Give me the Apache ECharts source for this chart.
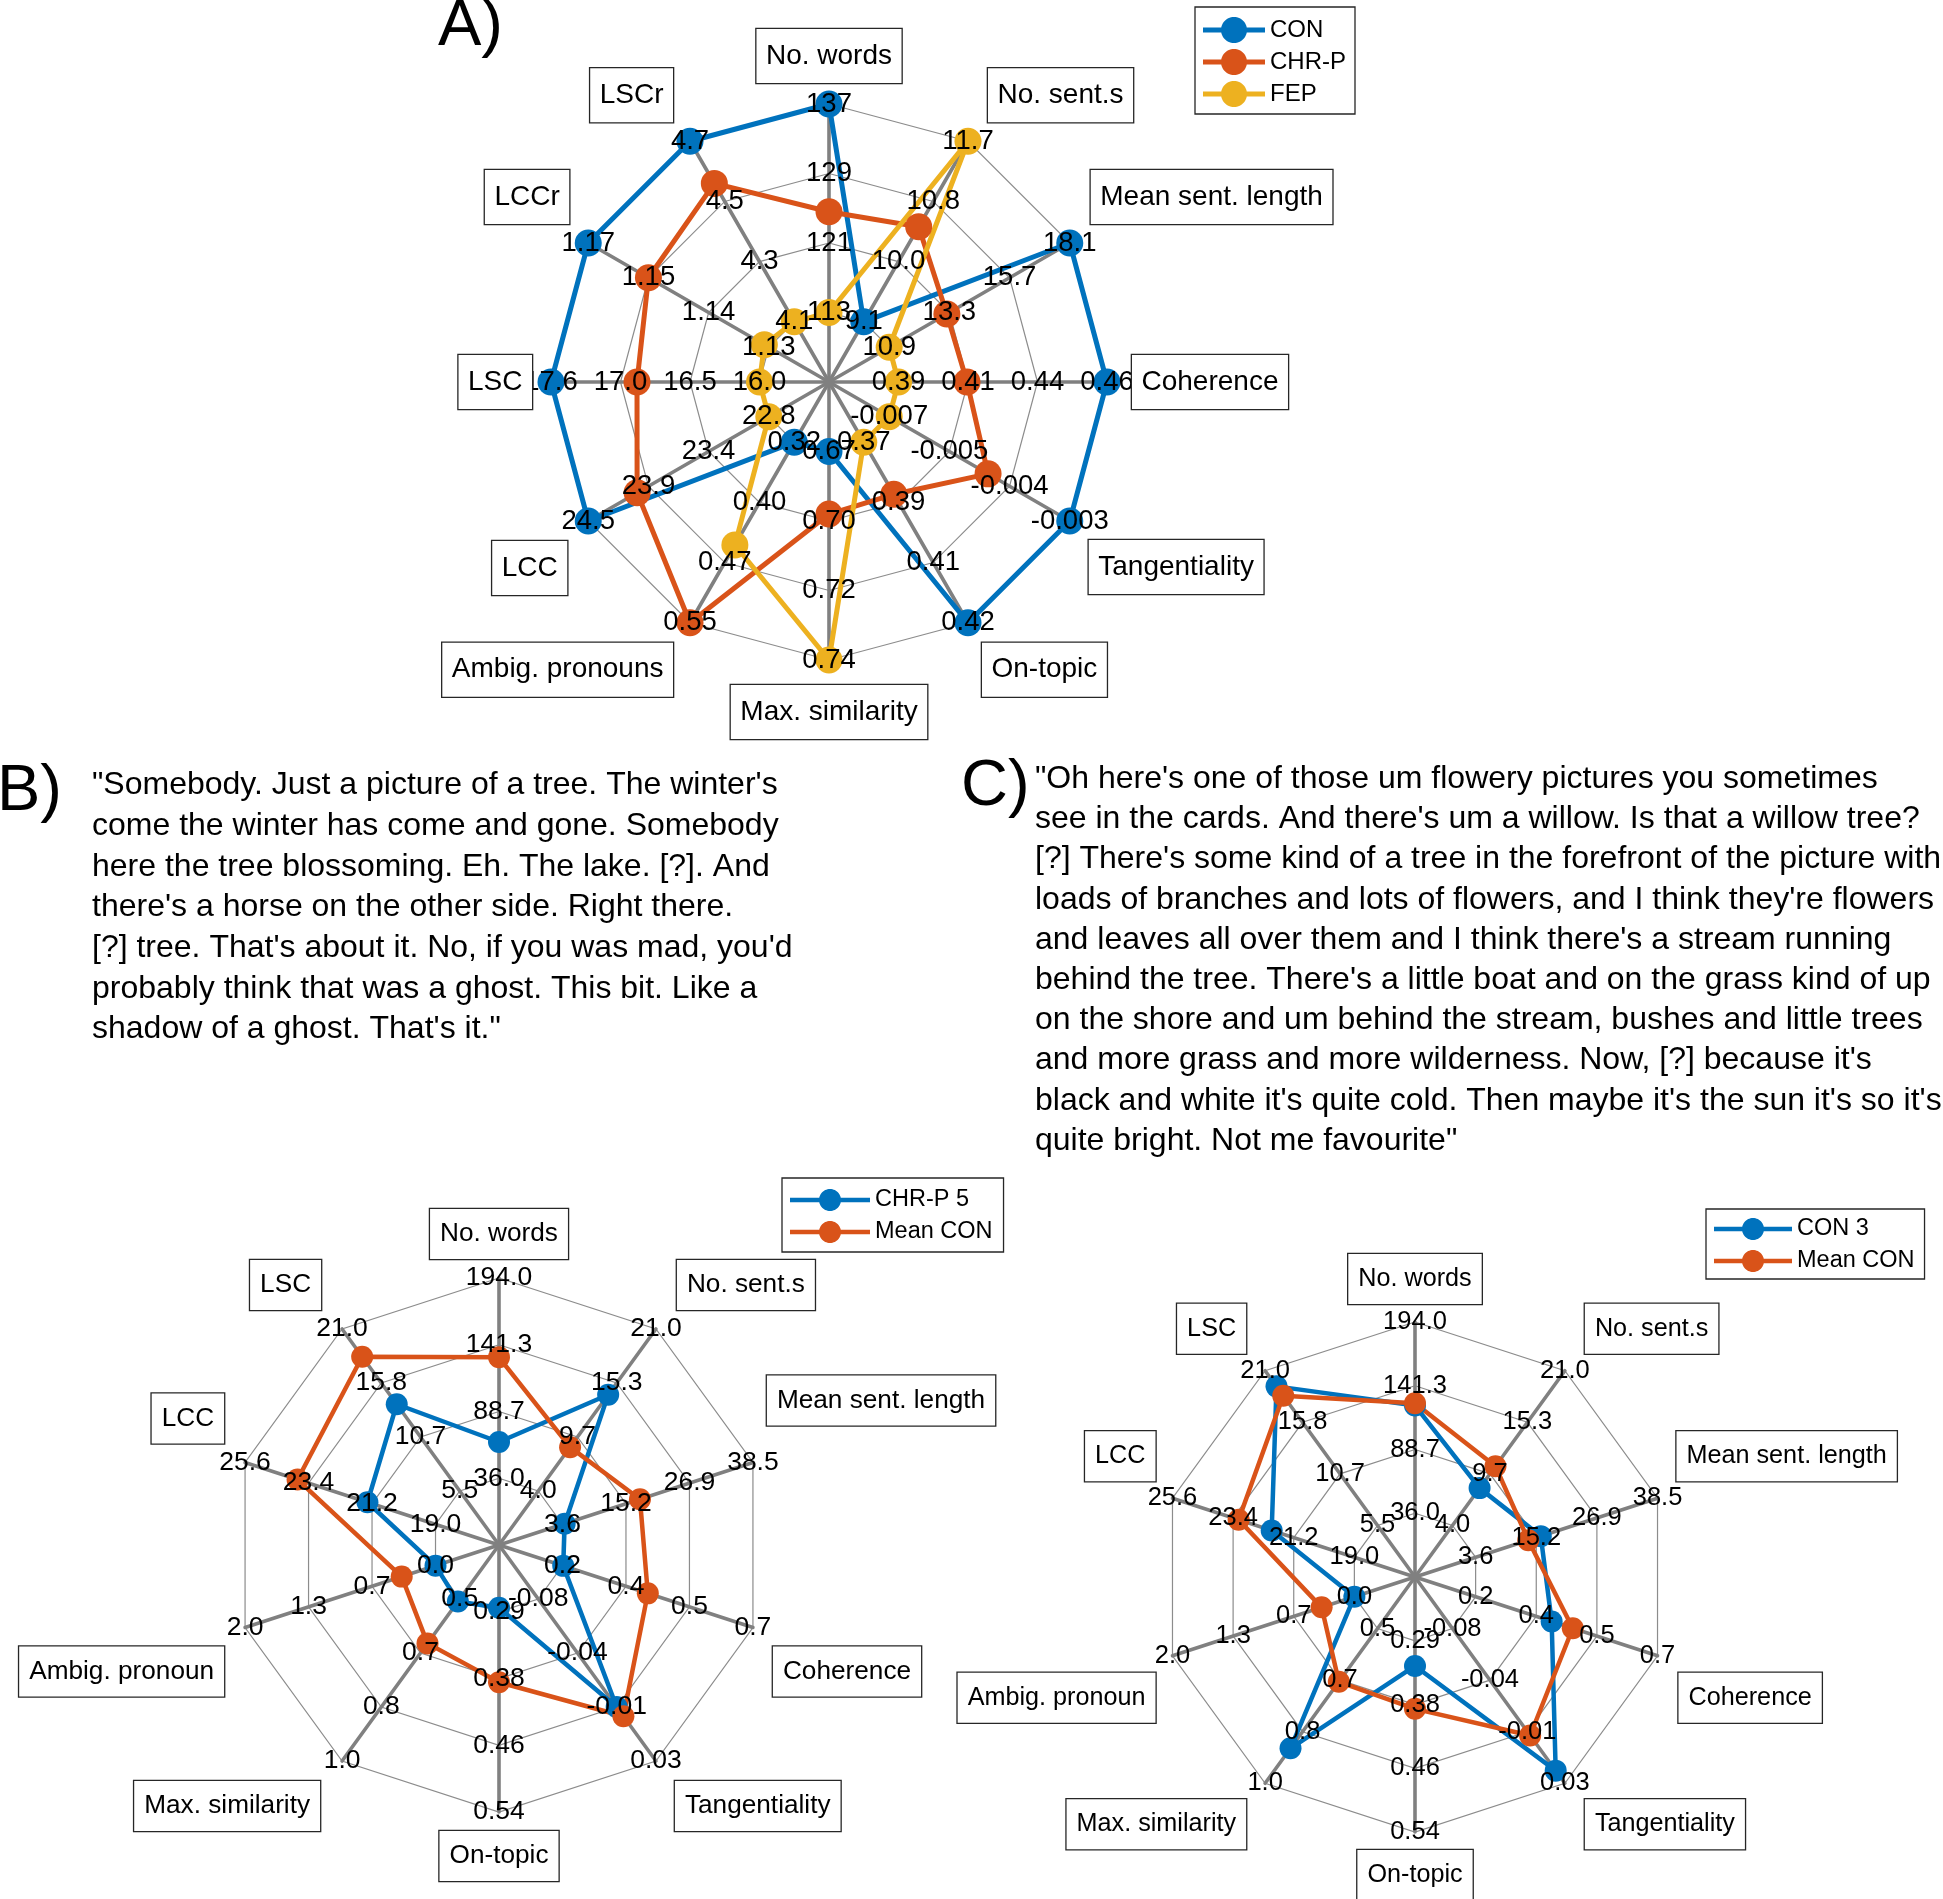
<!DOCTYPE html>
<html><head><meta charset="utf-8">
<script src="https://cdn.jsdelivr.net/npm/echarts@6/dist/echarts.min.js"></script>
<style>html,body{margin:0;padding:0;background:#fff}#c{width:1943px;height:1899px}</style>
</head><body><div id="c"></div>
<script>
// ---------------- Panel A data ----------------
const axesA = ['No. words','No. sent.s','Mean sent. length','Coherence','Tangentiality','On-topic','Max. similarity','Ambig. pronouns','LCC','LSC','LCCr','LSCr'];
const loA = [113, 9.1, 10.9, 0.39, -0.0068, 0.372, 0.674, 0.32, 22.8, 15.96, 1.126, 4.1];
const hiA = [137, 11.7, 18.1, 0.46, -0.0026, 0.424, 0.744, 0.55, 24.5, 17.56, 1.1665, 4.7];
const ticksA = [
  ['113','121','129','137'],
  ['9.1','10.0','10.8','11.7'],
  ['10.9','13.3','15.7','18.1'],
  ['0.39','0.41','0.44','0.46'],
  ['-0.007','-0.005','-0.004','-0.003'],
  ['0.37','0.39','0.41','0.42'],
  ['0.67','0.70','0.72','0.74'],
  ['0.32','0.40','0.47','0.55'],
  ['22.8','23.4','23.9','24.5'],
  ['16.0','16.5','17.0','17.6'],
  ['1.13','1.14','1.15','1.17'],
  ['4.1','4.3','4.5','4.7']
];
const groupsA = ['CON','CHR-P','FEP'];
const conA  = [137, 9.1, 18.1, 0.46, -0.0026, 0.424, 0.674, 0.32, 24.5, 17.56, 1.1665, 4.7];
const chrpA = [124.6, 10.47, 13.2, 0.413, -0.0045, 0.387, 0.695, 0.55, 24.04, 16.9, 1.153, 4.56];
const fepA  = [113, 11.7, 10.9, 0.39, -0.0068, 0.372, 0.744, 0.451, 22.8, 15.96, 1.127, 4.1];

// ---------------- Panels B and C data ----------------
const axesBC = ['No. words','No. sent.s','Mean sent. length','Coherence','Tangentiality','On-topic','Max. similarity','Ambig. pronoun','LCC','LSC'];
const loBC = [36.0, 4.0, 3.6, 0.2, -0.08, 0.292, 0.5, 0.0, 19.0, 5.5];
const hiBC = [194.0, 21.0, 38.5, 0.7, 0.03, 0.542, 1.0, 2.0, 25.6, 21.0];
const ticksBC = [
  ['36.0','88.7','141.3','194.0'],
  ['4.0','9.7','15.3','21.0'],
  ['3.6','15.2','26.9','38.5'],
  ['0.2','0.4','0.5','0.7'],
  ['-0.08','-0.04','-0.01','0.03'],
  ['0.29','0.38','0.46','0.54'],
  ['0.5','0.7','0.8','1.0'],
  ['0.0','0.7','1.3','2.0'],
  ['19.0','21.2','23.4','25.6'],
  ['5.5','10.7','15.8','21.0']
];
const groupsB = ['CHR-P 5','Mean CON'];
const chrp5B   = [64.6, 14.1, 4.0, 0.202, -0.0067, 0.287, 0.508, 0.0, 21.36, 13.8];
const meanConB = [131.4, 8.6, 17.8, 0.424, -0.0004, 0.380, 0.637, 0.355, 23.78, 18.35];
const groupsC = ['CON 3','Mean CON'];
const con3C    = [125, 8.1, 16.1, 0.409, 0.021, 0.325, 0.887, 0.0, 22.0, 19.43];
const meanConC = [126.9, 10.5, 13.7, 0.467, -0.004, 0.381, 0.672, 0.36, 23.2, 18.5];

const textB = [
  '"Somebody. Just a picture of a tree. The winter\'s',
  'come the winter has come and gone. Somebody',
  'here the tree blossoming. Eh. The lake. [?]. And',
  'there\'s a horse on the other side. Right there.',
  '[?] tree. That\'s about it. No, if you was mad, you\'d',
  'probably think that was a ghost. This bit. Like a',
  'shadow of a ghost. That\'s it."'
];
const textC = [
  '"Oh here\'s one of those um flowery pictures you sometimes',
  'see in the cards. And there\'s um a willow. Is that a willow tree?',
  '[?] There\'s some kind of a tree in the forefront of the picture with',
  'loads of branches and lots of flowers, and I think they\'re flowers',
  'and leaves all over them and I think there\'s a stream running',
  'behind the tree. There\'s a little boat and on the grass kind of up',
  'on the shore and um behind the stream, bushes and little trees',
  'and more grass and more wilderness. Now, [?] because it\'s',
  'black and white it\'s quite cold. Then maybe it\'s the sun it\'s so it\'s',
  'quite bright. Not me favourite"'
];

// ---------------- styling helpers ----------------
const FONT = "'Liberation Sans', Arial, Helvetica, sans-serif";
const BLUE = '#0072BD', ORANGE = '#D95319', YELLOW = '#EDB120';

// axis-name box offsets from the axis end (horizontal gap, vertical gap), per axis
const offA = [[0,21],[20,19],[21,19],[25,0],[19,19],[14,20],[0,25],[17,20],[21,20],[19,0],[19,19],[17,19]];
const offB = [[0,19],[21,19],[14,37],[20,19],[19,20],[0,19],[22,20],[21,19],[21,19],[21,19]];
const offC = [[0,18],[20,17],[19,17],[21,17],[20,16],[0,18],[19,16],[17,17],[17,17],[19,17]];

function order(n) { const o = [0]; for (let i = n - 1; i >= 1; i--) o.push(i); return o; }
function nameAlign(theta) {
  if (Math.abs(theta) < 1e-6) return {align: 'center', verticalAlign: 'bottom'};
  if (Math.abs(theta - 180) < 1e-6) return {align: 'center', verticalAlign: 'top'};
  const align = theta < 180 ? 'left' : 'right';
  const t = theta < 180 ? theta : 360 - theta;
  const va = t < 89.9 ? 'bottom' : (t > 90.1 ? 'top' : 'middle');
  return {align: align, verticalAlign: va};
}

function buildPanel(cfg, radars, series) {
  const n = cfg.axes.length, ord = order(n);
  const rich = {b: {fontSize: cfg.nameSize, fontFamily: FONT, color: '#000', borderColor: '#262626', borderWidth: 1.3,
    padding: cfg.namePad, backgroundColor: '#fff'}};
  function range(i) { const step = (cfg.hi[i] - cfg.lo[i]) / 3; return {step: step, min: cfg.lo[i] - step, max: cfg.hi[i]}; }
  const gridInd = ord.map(function (i) { const r = range(i); return {name: '', min: r.min, max: r.max}; });
  const nameInd = ord.map(function (i) {
    const r = range(i);
    const al = nameAlign(360 * i / n);
    const ox = Math.round(cfg.offs[i][0]), oy = Math.round(cfg.offs[i][1]);
    if (ox > 0) rich['x' + ox] = {width: ox, height: 1, fontSize: 1};
    if (oy > 0) rich['y' + oy] = {width: 1, height: oy, fontSize: 1};
    return {name: cfg.axes[i], min: r.min, max: r.max, nameGap: 0,
      nameTextStyle: al, _ox: ox, _oy: oy, _al: al.align, _va: al.verticalAlign};
  });
  const labInd = ord.map(function (i) {
    const r = range(i), tk = cfg.ticks[i];
    return {name: '', min: r.min, max: r.max,
      axisLabel: {formatter: function (v) { const k = Math.round((v - r.min) / r.step); return (k >= 1 && k <= 4) ? tk[k - 1] : ''; }}};
  });
  const common = {center: cfg.center, radius: cfg.radius, startAngle: 90, splitNumber: 4, shape: 'polygon'};
  const gridIdx = radars.length;
  // grid: spokes + rings (below the series)
  radars.push(Object.assign({}, common, {z: 1,
    axisName: {show: false},
    axisLine: {lineStyle: {color: '#808080', width: cfg.spokeW}},
    splitLine: {lineStyle: {color: '#8c8c8c', width: 1.2}},
    splitArea: {show: false}, axisTick: {show: false}, axisLabel: {show: false},
    indicator: gridInd}));
  // tick labels (above the series)
  radars.push(Object.assign({}, common, {z: 6,
    axisName: {show: false}, axisLine: {show: false}, splitLine: {show: false}, splitArea: {show: false},
    axisTick: {show: false},
    axisLabel: {show: true, color: '#000', fontSize: cfg.tickSize, fontFamily: FONT, margin: 0,
      align: 'center', verticalAlign: 'middle'},
    indicator: labInd}));
  // boxed axis names (on top)
  radars.push(Object.assign({}, common, {z: 7,
    axisName: {color: '#000', fontSize: cfg.nameSize, fontFamily: FONT, rich: rich,
      formatter: function (name, ind) {
        let core = '{b|' + name + '}';
        if (ind._ox > 0) core = ind._al === 'left' ? '{x' + ind._ox + '| }' + core : (ind._al === 'right' ? core + '{x' + ind._ox + '| }' : core);
        if (ind._oy > 0 && ind._va === 'bottom') return core + '\n{y' + ind._oy + '| }';
        if (ind._oy > 0 && ind._va === 'top') return '{y' + ind._oy + '| }\n' + core;
        return core;
      }},
    axisNameGap: 0,
    axisLine: {show: false}, splitLine: {show: false}, splitArea: {show: false},
    axisTick: {show: false}, axisLabel: {show: false},
    indicator: nameInd}));
  series.push({
    type: 'radar', radarIndex: gridIdx, z: 2, silent: true,
    symbol: 'circle', symbolSize: cfg.dot,
    emphasis: {disabled: true},
    data: cfg.groups.map(function (g, k) {
      return {name: g, value: ord.map(function (i) { return cfg.values[k][i]; }),
        itemStyle: {color: cfg.colors[k], borderWidth: 0},
        lineStyle: {color: cfg.colors[k], width: cfg.lineW}};
    })
  });
}

function iconPath(w, h, lw) {
  const cx = w / 2, cy = h / 2, r = h / 2, a = Math.asin(lw / 2 / r), y1 = cy - lw / 2, y2 = cy + lw / 2;
  const pts = [[0, y1]];
  const N = 24;
  for (let j = 0; j <= N; j++) { const t = Math.PI + a + (Math.PI - 2 * a) * j / N; pts.push([cx + r * Math.cos(t), cy + r * Math.sin(t)]); }
  pts.push([w, y1]); pts.push([w, y2]);
  for (let j = 0; j <= N; j++) { const t = a + (Math.PI - 2 * a) * j / N; pts.push([cx + r * Math.cos(t), cy + r * Math.sin(t)]); }
  pts.push([0, y2]);
  return 'path://M' + pts.map(function (p) { return p[0].toFixed(2) + ',' + p[1].toFixed(2); }).join('L') + 'Z';
}

const radars = [], series = [];
buildPanel({axes: axesA, lo: loA, hi: hiA, ticks: ticksA, groups: groupsA, values: [conA, chrpA, fepA],
  colors: [BLUE, ORANGE, YELLOW], center: [829, 382], radius: 278, nameSize: 28, namePad: [13, 9.5],
  tickSize: 27.5, spokeW: 3.6, dot: 27, lineW: 5, offs: offA}, radars, series);
buildPanel({axes: axesBC, lo: loBC, hi: hiBC, ticks: ticksBC, groups: groupsB, values: [chrp5B, meanConB],
  colors: [BLUE, ORANGE], center: [499, 1545], radius: 267, nameSize: 26.2, namePad: [12, 10],
  tickSize: 26.5, spokeW: 3.6, dot: 22, lineW: 4.5, offs: offB}, radars, series);
buildPanel({axes: axesBC, lo: loBC, hi: hiBC, ticks: ticksBC, groups: groupsC, values: [con3C, meanConC],
  colors: [BLUE, ORANGE], center: [1415, 1577], radius: 255, nameSize: 25.2, namePad: [12.5, 10],
  tickSize: 25.5, spokeW: 3.6, dot: 22, lineW: 4.5, offs: offC}, radars, series);

const legendBase = {orient: 'vertical', selectedMode: false, borderColor: '#262626', borderWidth: 1.3,
  backgroundColor: '#fff', itemStyle: {borderWidth: 0}, z: 8};
const legends = [
  Object.assign({}, legendBase, {data: groupsA, left: 1195, top: 7, padding: [10, 9, 7, 8], itemGap: 6,
    itemWidth: 62, itemHeight: 26, icon: iconPath(62, 26, 5),
    textStyle: {fontSize: 24, color: '#000', fontFamily: FONT, lineHeight: 26}}),
  Object.assign({}, legendBase, {data: groupsB, left: 782, top: 1178, padding: [10, 11, 8, 8], itemGap: 8,
    itemWidth: 80, itemHeight: 22, icon: iconPath(80, 22, 4.5),
    textStyle: {fontSize: 23.5, color: '#000', fontFamily: FONT, lineHeight: 24}}),
  Object.assign({}, legendBase, {data: groupsC, left: 1706, top: 1209, padding: [8, 10, 6, 8], itemGap: 8,
    itemWidth: 78, itemHeight: 22, icon: iconPath(78, 22, 4.5),
    textStyle: {fontSize: 23.5, color: '#000', fontFamily: FONT, lineHeight: 24}})
];

const graphics = [
  {type: 'text', x: 438, y: 27, style: {text: 'A)', font: '65px ' + FONT, fill: '#000', verticalAlign: 'middle'}},
  {type: 'text', x: -3, y: 792, style: {text: 'B)', font: '65px ' + FONT, fill: '#000', verticalAlign: 'middle'}},
  {type: 'text', x: 961, y: 787, style: {text: 'C)', font: '65px ' + FONT, fill: '#000', verticalAlign: 'middle'}},
  {type: 'text', x: 92, y: 765, style: {text: textB.join('\n'), font: '32px ' + FONT, lineHeight: 40.7, fill: '#000', verticalAlign: 'top'}},
  {type: 'text', x: 1035, y: 759, style: {text: textC.join('\n'), font: '32px ' + FONT, lineHeight: 40.2, fill: '#000', verticalAlign: 'top'}}
];

const chart = echarts.init(document.getElementById('c'));
chart.setOption({
  animation: false,
  backgroundColor: '#fff',
  textStyle: {fontFamily: FONT},
  radar: radars,
  legend: legends,
  graphic: graphics,
  series: series
});
</script></body></html>
